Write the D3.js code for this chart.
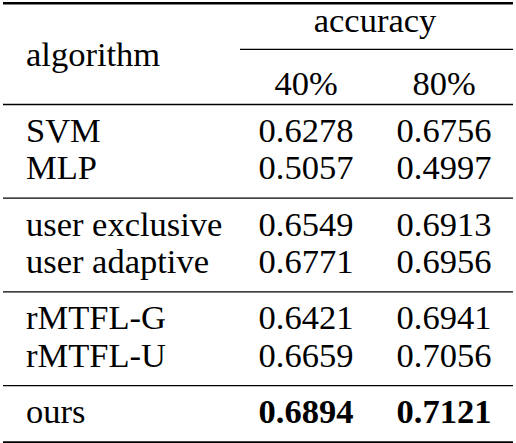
<!DOCTYPE html>
<html>
<head>
  <meta charset="utf-8">
  <title>Accuracy table</title>
  <style>
    html, body { margin: 0; padding: 0; background: #fff; }
    svg text { font-family: "Times New Roman", Times, "Liberation Serif", Tinos, serif; fill: #000; }
  </style>
</head>
<body>
  <svg id="chart"></svg>

  <script src="https://d3js.org/d3.v7.min.js"></script>
  <script>
    // table contents
    const algorithms = ['SVM', 'MLP', 'user exclusive', 'user adaptive', 'rMTFL-G', 'rMTFL-U', 'ours'];
    const groups = [0, 0, 1, 1, 2, 2, 3];
    const columns = ['40%', '80%'];
    const acc40 = ['0.6278', '0.5057', '0.6549', '0.6771', '0.6421', '0.6659', '0.6894'];
    const acc80 = ['0.6756', '0.4997', '0.6913', '0.6956', '0.6941', '0.7056', '0.7121'];
    const boldRow = 'ours';

    const width = 516, height = 443;
    const fontSize = 34.5;
    const left = 3, right = 513;
    const textLeft = 26;
    const serif = '"Times New Roman", Times, "Liberation Serif", Tinos, serif';

    const svg = d3.select('#chart')
      .attr('width', width)
      .attr('height', height)
      .style('display', 'block');

    // column centres
    const x = d3.scaleOrdinal().domain(columns).range([306, 444]);

    // row baselines: fixed pitch inside a group, extra room around the rules
    const midrule = 104.5;
    const pitch = 37.2;
    const firstGap = 37.5;   // rule -> first baseline
    const lastGap = 19;      // last baseline -> rule

    const rowY = [];
    const ruleY = [midrule];
    let y = midrule + firstGap;
    algorithms.forEach(function(a, i) {
      if (i > 0 && groups[i] !== groups[i - 1]) {
        const r = rowY[i - 1] + lastGap;
        ruleY.push(r);
        y = r + firstGap;
      }
      rowY.push(y);
      y += pitch;
    });
    const bottomRule = rowY[rowY.length - 1] + lastGap + 0.5;

    // rules
    svg.append('line')
      .attr('x1', left).attr('x2', right)
      .attr('y1', 3.3).attr('y2', 3.3)
      .attr('stroke', '#000').attr('stroke-width', 2.6);

    svg.append('line')
      .attr('x1', 240).attr('x2', right)
      .attr('y1', 49.3).attr('y2', 49.3)
      .attr('stroke', '#000').attr('stroke-width', 1.2);

    svg.selectAll('.rule')
      .data(ruleY)
      .enter()
      .append('line')
      .attr('class', 'rule')
      .attr('x1', left).attr('x2', right)
      .attr('y1', d => d).attr('y2', d => d)
      .attr('stroke', '#000').attr('stroke-width', 1.3);

    svg.append('line')
      .attr('x1', left).attr('x2', right)
      .attr('y1', bottomRule).attr('y2', bottomRule)
      .attr('stroke', '#000').attr('stroke-width', 2.6);

    // header
    svg.append('text')
      .attr('x', textLeft).attr('y', 66)
      .attr('font-family', serif)
      .attr('font-size', fontSize)
      .text('algorithm');

    svg.append('text')
      .attr('x', (x('40%') + x('80%')) / 2).attr('y', 31.5)
      .attr('text-anchor', 'middle')
      .attr('font-family', serif)
      .attr('font-size', fontSize)
      .text('accuracy');

    svg.selectAll('.colhead')
      .data(columns)
      .enter()
      .append('text')
      .attr('class', 'colhead')
      .attr('x', d => x(d)).attr('y', 95)
      .attr('text-anchor', 'middle')
      .attr('font-family', serif)
      .attr('font-size', fontSize)
      .text(d => d);

    // body
    const rows = algorithms.map(function(a, i) {
      return { name: a, v40: acc40[i], v80: acc80[i], y: rowY[i] };
    });

    svg.selectAll('.name')
      .data(rows)
      .enter()
      .append('text')
      .attr('class', 'name')
      .attr('x', textLeft).attr('y', d => d.y)
      .attr('font-family', serif)
      .attr('font-size', fontSize)
      .text(d => d.name);

    svg.selectAll('.v40')
      .data(rows)
      .enter()
      .append('text')
      .attr('class', 'v40')
      .attr('x', x('40%')).attr('y', d => d.y)
      .attr('text-anchor', 'middle')
      .attr('font-family', serif)
      .attr('font-size', fontSize)
      .attr('font-weight', d => d.name === boldRow ? 'bold' : 'normal')
      .text(d => d.v40);

    svg.selectAll('.v80')
      .data(rows)
      .enter()
      .append('text')
      .attr('class', 'v80')
      .attr('x', x('80%')).attr('y', d => d.y)
      .attr('text-anchor', 'middle')
      .attr('font-family', serif)
      .attr('font-size', fontSize)
      .attr('font-weight', d => d.name === boldRow ? 'bold' : 'normal')
      .text(d => d.v80);
  </script>
</body>
</html>
